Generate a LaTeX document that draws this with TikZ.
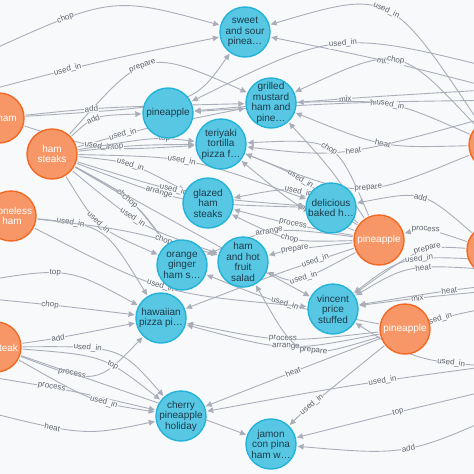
\documentclass[tikz,border=0pt]{standalone}
\usepackage{fontspec}
\setmainfont{Liberation Sans}
\usetikzlibrary{calc,arrows.meta}
\definecolor{bgc}{HTML}{F8F9FB}
\definecolor{edgec}{HTML}{A9AEB8}
\definecolor{lblc}{HTML}{5E636B}
\definecolor{bfill}{HTML}{57C7E3}
\definecolor{bline}{HTML}{23B3D7}
\definecolor{btxt}{HTML}{1D3B4C}
\definecolor{ofill}{HTML}{F79767}
\definecolor{oline}{HTML}{F36924}
\newcommand{\myedge}[5]{%
  \draw[edgeline] (#1) .. controls ($1.3333*(#2)-0.16667*(#1.center)-0.16667*(#3.center)$) .. (#3) node[lbl,pos=#5]{#4};}
\newcommand{\myedgenl}[3]{%
  \draw[edgeline] (#1) .. controls ($1.3333*(#2)-0.16667*(#1.center)-0.16667*(#3.center)$) .. (#3);}
\begin{document}
\begin{tikzpicture}[x=1pt,y=-1pt,
  edgeline/.style={draw=edgec, line width=0.9pt, -{Triangle[length=6pt,width=5.5pt]}},
  lbl/.style={font=\fontsize{8}{8}\selectfont, text=lblc, fill=bgc, inner sep=0.5pt, sloped},
  ghost/.style={circle, minimum size=53pt, inner sep=0pt},
  bnode/.style={circle, minimum size=50pt, inner sep=0pt, fill=bfill, draw=bline, line width=1.4pt},
  onode/.style={circle, minimum size=50pt, inner sep=0pt, fill=ofill, draw=oline, line width=1.4pt},
  btext/.style={font=\fontsize{10}{10.5}\selectfont, text=btxt, align=center, inner sep=0pt},
  otext/.style={font=\fontsize{10}{10.5}\selectfont, text=white, align=center, inner sep=0pt}]
\useasboundingbox (0,0) rectangle (474,474);
\fill[bgc] (0,0) rectangle (474,474);
\clip (0,0) rectangle (474,474);
% ghost nodes (positions)
\node[ghost] (sw) at (245,32) {};
\node[ghost] (pa) at (168,113) {};
\node[ghost] (gr) at (271,103) {};
\node[ghost] (te) at (221,144) {};
\node[ghost] (gl) at (208,203) {};
\node[ghost] (de) at (331,208) {};
\node[ghost] (og) at (182,265) {};
\node[ghost] (hh) at (243,262) {};
\node[ghost] (vi) at (333,309) {};
\node[ghost] (hw) at (161,318) {};
\node[ghost] (ch) at (181,416) {};
\node[ghost] (ja) at (271,444) {};
\node[ghost] (oh) at (-1,118) {};
\node[ghost] (hs) at (52,154) {};
\node[ghost] (ob) at (11,216) {};
\node[ghost] (os) at (-4,347) {};
\node[ghost] (p1) at (379,240) {};
\node[ghost] (p2) at (405,329) {};
\node[ghost] (r1) at (492,250) {};
\node[ghost] (r2) at (494,145) {};
\coordinate (L1) at (-30,60);
\coordinate (L2) at (-30,95);
\coordinate (L3) at (-40,285);
\coordinate (L4) at (-40,296);
\coordinate (L5) at (-40,372);
\coordinate (L6) at (-40,405);
\coordinate (Ra) at (520,75);
\coordinate (Rb) at (520,95);
\coordinate (Rb2) at (520,88);
\coordinate (Rc) at (520,100);
\coordinate (Rx) at (520,108);
\coordinate (Rd) at (520,262);
\coordinate (Re) at (520,272);
\coordinate (Rf) at (520,288);
\coordinate (Rg) at (520,282);
\coordinate (Rg2) at (520,302);
\coordinate (Rh) at (520,362);
\coordinate (Ri) at (520,368);
\coordinate (Rj) at (520,383);
\coordinate (Rk) at (520,405);
% edges
\myedge{L1}{110,8}{sw}{chop}{0.3}
\myedge{L2}{100,62}{sw}{used\_in}{0.35}
\myedge{hs}{150,68}{gr}{prepare}{0.45}
\myedgenl{oh}{175,98}{sw}
\myedge{r2}{385,14}{sw}{used\_in}{0.5}
\myedge{Rb}{380,60}{sw}{mix}{0.5}
\myedge{r2}{395,64}{gr}{chop}{0.5}
\myedge{Ra}{340,45}{pa}{used\_in}{0.5}
\myedge{Rb2}{342,99}{pa}{mix}{0.5}
\myedge{Rc}{355,103}{pa}{heat}{0.42}
\myedge{r2}{390,106}{gr}{used\_in}{0.5}
\myedge{r2}{383,142}{gr}{heat}{0.5}
\myedge{Rx}{350,150}{te}{heat}{0.5}
\myedge{p1}{327,152}{te}{chop}{0.5}
\myedge{p1}{300,180}{te}{used\_in}{0.5}
\myedge{p1}{300,205}{te}{top}{0.45}
\myedge{p1}{293,224}{gl}{process}{0.5}
\myedge{p1}{298,194}{gl}{used\_in}{0.5}
\myedge{r2}{360,186}{te}{prepare}{0.45}
\myedge{r1}{420,200}{de}{add}{0.5}
\myedge{r1}{428,232}{p1}{process}{0.55}
\myedge{r1}{420,254}{vi}{prepare}{0.4}
\myedge{Rd}{410,262}{vi}{used\_in}{0.45}
\myedge{Re}{414,270}{vi}{heat}{0.45}
\myedge{Rf}{420,298}{vi}{mix}{0.55}
\myedge{Rg}{440,292}{vi}{heat}{0.45}
\myedge{Rg2}{460,314}{p2}{used\_in}{0.9}
\myedge{p1}{300,276}{hh}{used\_in}{0.45}
\myedge{p1}{275,275}{hw}{used\_in}{0.2}
\myedge{p1}{295,250}{hh}{prepare}{0.5}
\myedge{p1}{275,233}{og}{arrange}{0.55}
\myedge{p1}{290,237}{gl}{chop}{0.5}
\myedge{p2}{283,338}{hw}{process}{0.5}
\myedge{p2}{286,345}{hw}{arrange}{0.5}
\myedge{p2}{305,345}{hh}{prepare}{0.4}
\myedge{p2}{285,303}{og}{used\_in}{0.5}
\myedge{ob}{165,286}{vi}{used\_in}{0.48}
\myedge{p2}{293,372}{ch}{heat}{0.5}
\myedge{Rh}{350,386}{ch}{used\_in}{0.38}
\myedge{Ri}{420,356}{vi}{used\_in}{0.3}
\myedge{p2}{312,405}{ja}{used\_in}{0.5}
\myedge{Rj}{395,413}{ja}{top}{0.5}
\myedge{Rk}{405,448}{ja}{add}{0.5}
\myedge{oh}{110,108}{gr}{add}{0.38}
\myedge{hs}{98,120}{pa}{add}{0.42}
\myedge{hs}{150,128}{gr}{used\_in}{0.28}
\myedge{oh}{105,146}{te}{used\_in}{0.45}
\myedge{hs}{136,146}{te}{top}{0.3}
\myedge{hs}{150,140}{te}{top}{0.68}
\myedge{hs}{190,163}{de}{used\_in}{0.45}
\myedge{hs}{130,166}{gl}{used\_in}{0.5}
\myedge{hs}{191,193}{de}{used\_in}{0.4}
\myedge{hs}{185,198}{de}{arrange}{0.35}
\myedge{hs}{127,200}{og}{chop}{0.45}
\myedge{hs}{131,204}{og}{chop}{0.47}
\myedge{hs}{103,224}{og}{used\_in}{0.45}
\myedge{hs}{142,222}{hh}{used\_in}{0.42}
\myedge{ob}{100,236}{hw}{used\_in}{0.2}
\myedge{ob}{127,232}{hh}{chop}{0.75}
\myedge{L3}{65,275}{hw}{top}{0.45}
\myedge{L4}{60,306}{hw}{chop}{0.45}
\myedge{os}{62,337}{hw}{add}{0.45}
\myedge{os}{112,355}{ch}{used\_in}{0.3}
\myedge{os}{92,372}{hw}{process}{0.3}
\myedge{os}{100,362}{ch}{top}{0.62}
\myedge{L5}{70,391}{ch}{process}{0.4}
\myedge{os}{92,397}{ch}{used\_in}{0.62}
\myedge{L6}{80,430}{ch}{heat}{0.35}
\myedgenl{os}{178,410}{ja}
\myedgenl{hs}{240,258}{vi}
\myedgenl{p1}{330,170}{gr}
% visible nodes
\node[bnode] (swV) at (sw.center) {};
\node[btext] (swT) at (sw.center) {sweet\\and sour\\pinea…};
\node[bnode] (paV) at (pa.center) {};
\node[btext] (paT) at (pa.center) {pineapple};
\node[bnode] (grV) at (gr.center) {};
\node[btext] (grT) at (gr.center) {grilled\\mustard\\ham and\\pine…};
\node[bnode] (teV) at (te.center) {};
\node[btext] (teT) at (te.center) {teriyaki\\tortilla\\pizza f…};
\node[bnode] (glV) at (gl.center) {};
\node[btext] (glT) at (gl.center) {glazed\\ham\\steaks};
\node[bnode] (deV) at (de.center) {};
\node[btext] (deT) at (de.center) {delicious\\baked h…};
\node[bnode] (ogV) at (og.center) {};
\node[btext] (ogT) at (og.center) {orange\\ginger\\ham s…};
\node[bnode] (hhV) at (hh.center) {};
\node[btext] (hhT) at (hh.center) {ham\\and hot\\fruit\\salad};
\node[bnode] (viV) at (vi.center) {};
\node[btext] (viT) at (vi.center) {vincent\\price\\stuffed};
\node[bnode] (hwV) at (hw.center) {};
\node[btext] (hwT) at (hw.center) {hawaiian\\pizza pi…};
\node[bnode] (chV) at (ch.center) {};
\node[btext] (chT) at (ch.center) {cherry\\pineapple\\holiday};
\node[bnode] (jaV) at (ja.center) {};
\node[btext] (jaT) at (ja.center) {jamon\\con pina\\ham w…};
\node[onode] (ohV) at (oh.center) {};
\node[otext] (ohT) at (7,118) {ham};
\node[onode] (hsV) at (hs.center) {};
\node[otext] (hsT) at (hs.center) {ham\\steaks};
\node[onode] (obV) at (ob.center) {};
\node[otext] (obT) at (12,216) {boneless\\ham};
\node[onode] (osV) at (os.center) {};
\node[otext] (osT) at (6,348) {steak};
\node[onode] (p1V) at (p1.center) {};
\node[otext] (p1T) at (p1.center) {pineapple};
\node[onode] (p2V) at (p2.center) {};
\node[otext] (p2T) at (p2.center) {pineapple};
\node[onode] (r1V) at (r1.center) {};
\node[onode] (r2V) at (r2.center) {};
\end{tikzpicture}
\end{document}
